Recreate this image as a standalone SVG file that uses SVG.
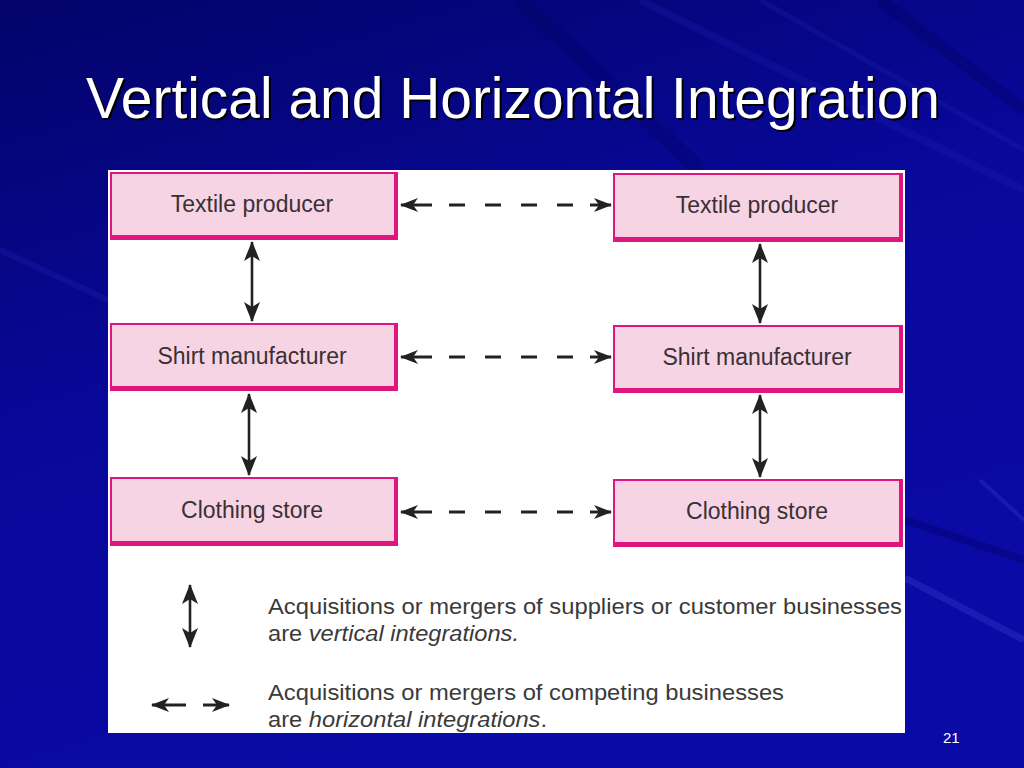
<svg xmlns="http://www.w3.org/2000/svg" width="1024" height="768" viewBox="0 0 1024 768">
  <defs>
    <linearGradient id="bg" x1="0" y1="0" x2="0.4" y2="1">
      <stop offset="0" stop-color="#03036a"/>
      <stop offset="0.5" stop-color="#08089a"/>
      <stop offset="1" stop-color="#0a0aa6"/>
    </linearGradient>
    <marker id="ah" markerUnits="userSpaceOnUse" markerWidth="18" markerHeight="14" viewBox="0 0 18 14" refX="17" refY="7" orient="auto-start-reverse">
      <path d="M0,0 L18,7 L0,14 L5,7 z" fill="#222"/>
    </marker>
    <marker id="avh" markerUnits="userSpaceOnUse" markerWidth="20" markerHeight="16" viewBox="0 0 20 16" refX="19" refY="8" orient="auto-start-reverse">
      <path d="M0,0 L20,8 L0,16 L5,8 z" fill="#222"/>
    </marker>
    <style>
      .box-o { fill: #e0167f; }
      .box-i { fill: #f6d4e4; }
      .lbl { font-family: "Liberation Sans", Arial, sans-serif; font-size: 23px; fill: #3a3034; text-anchor: middle; }
      .vcon { stroke: #222; stroke-width: 2.6; fill: none; marker-start: url(#avh); marker-end: url(#avh); }
      .hcon { stroke: #222; stroke-width: 3; fill: none; marker-start: url(#ah); marker-end: url(#ah); }
      .leg { font-family: "Liberation Sans", Arial, sans-serif; font-size: 22px; fill: #3a3a3a; }
      .title { font-family: "Liberation Sans", Arial, sans-serif; font-size: 58px; fill: #ffffff; }
      .shadow { font-family: "Liberation Sans", Arial, sans-serif; font-size: 58px; fill: #000000; }
    </style>
  </defs>

  <!-- background -->
  <rect x="0" y="0" width="1024" height="768" fill="url(#bg)"/>
  <g id="streaks" fill="none">
    <path d="M640,0 L1024,190" stroke="#2a2ac0" stroke-width="8" opacity="0.18"/>
    <path d="M760,0 L1024,150" stroke="#3030c8" stroke-width="5" opacity="0.18"/>
    <path d="M880,0 L1024,110" stroke="#00004a" stroke-width="12" opacity="0.22"/>
    <path d="M520,0 L700,170" stroke="#00004a" stroke-width="16" opacity="0.18"/>
    <path d="M905,578 L1024,640" stroke="#4a4ad8" stroke-width="7" opacity="0.3"/>
    <path d="M905,520 L1024,560" stroke="#00005a" stroke-width="8" opacity="0.3"/>
    <path d="M980,480 L1024,520" stroke="#4a4ad8" stroke-width="4" opacity="0.25"/>
    <path d="M0,250 L108,300" stroke="#3030c8" stroke-width="6" opacity="0.2"/>
  </g>

  <!-- title -->
  <g id="title">
    <text class="shadow" x="88" y="120" textLength="854" lengthAdjust="spacingAndGlyphs">Vertical and Horizontal Integration</text>
    <text class="title" x="86" y="118" textLength="854" lengthAdjust="spacingAndGlyphs">Vertical and Horizontal Integration</text>
  </g>

  <!-- white panel -->
  <rect id="panel" x="108" y="170" width="797" height="563" fill="#ffffff"/>

  <!-- nodes -->
  <g id="textile-left">
    <rect class="box-o" x="110" y="172" width="288" height="68"/>
    <rect class="box-i" x="112" y="174" width="282" height="61"/>
    <text class="lbl" x="252" y="212">Textile producer</text>
  </g>
  <g id="shirt-left">
    <rect class="box-o" x="110" y="323" width="288" height="68"/>
    <rect class="box-i" x="112" y="325" width="282" height="61"/>
    <text class="lbl" x="252" y="364">Shirt manufacturer</text>
  </g>
  <g id="clothing-left">
    <rect class="box-o" x="110" y="477" width="288" height="69"/>
    <rect class="box-i" x="112" y="479" width="282" height="62"/>
    <text class="lbl" x="252" y="518">Clothing store</text>
  </g>
  <g id="textile-right">
    <rect class="box-o" x="613" y="173" width="290" height="69"/>
    <rect class="box-i" x="615" y="175" width="284" height="62"/>
    <text class="lbl" x="757" y="213">Textile producer</text>
  </g>
  <g id="shirt-right">
    <rect class="box-o" x="613" y="325" width="290" height="68"/>
    <rect class="box-i" x="615" y="327" width="284" height="61"/>
    <text class="lbl" x="757" y="365">Shirt manufacturer</text>
  </g>
  <g id="clothing-right">
    <rect class="box-o" x="613" y="479" width="290" height="68"/>
    <rect class="box-i" x="615" y="481" width="284" height="61"/>
    <text class="lbl" x="757" y="519">Clothing store</text>
  </g>

  <!-- connectors -->
  <g id="connectors">
    <path class="vcon" d="M252,242 V321"/>
    <path class="vcon" d="M249,394 V475"/>
    <path class="vcon" d="M760,244 V323"/>
    <path class="vcon" d="M760,395 V477"/>
    <path class="hcon" d="M401,205 H432 M449,205 H465 M485,205 H501 M521,205 H537 M557,205 H573 M590,205 H611"/>
    <path class="hcon" d="M401,357 H432 M449,357 H465 M485,357 H501 M521,357 H537 M557,357 H573 M590,357 H611"/>
    <path class="hcon" d="M401,512 H432 M449,512 H465 M485,512 H501 M521,512 H537 M557,512 H573 M590,512 H611"/>
  </g>

  <!-- legend -->
  <g id="legend">
    <path class="vcon" d="M190,585 V647"/>
    <path d="M152,705 H186" stroke="#222" stroke-width="3" fill="none" marker-start="url(#ah)"/>
    <path d="M203,705 H229" stroke="#222" stroke-width="3" fill="none" marker-end="url(#ah)"/>
    <text class="leg" x="268" y="614" textLength="634" lengthAdjust="spacingAndGlyphs">Acquisitions or mergers of suppliers or customer businesses</text>
    <text class="leg" x="268" y="641" textLength="251" lengthAdjust="spacingAndGlyphs">are <tspan font-style="italic">vertical integrations.</tspan></text>
    <text class="leg" x="268" y="700" textLength="516" lengthAdjust="spacingAndGlyphs">Acquisitions or mergers of competing businesses</text>
    <text class="leg" x="268" y="727" textLength="279" lengthAdjust="spacingAndGlyphs">are <tspan font-style="italic">horizontal integrations</tspan>.</text>
  </g>

  <!-- page number -->
  <text id="page-number" x="943" y="743" font-family="Liberation Sans, Arial, sans-serif" font-size="15" fill="#ffffff">21</text>
</svg>
